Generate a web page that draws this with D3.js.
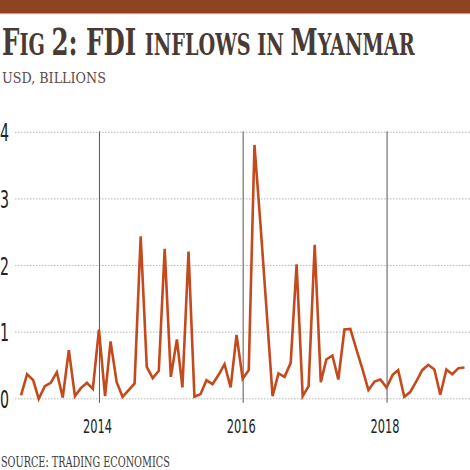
<!DOCTYPE html>
<html>
<head>
<meta charset="utf-8">
<script src="https://cdn.jsdelivr.net/npm/d3@7"></script>
<style>
  html, body { margin: 0; padding: 0; background: #fff; }
  svg { display: block; }
</style>
</head>
<body>
<svg></svg>
<script>
const svgWidth = 470;
const svgHeight = 470;

// monthly FDI inflows, USD billions, Dec 2012 .. Feb 2019
const firstMonth = "2012-12";
const fdiValues = [
	0.05, 0.37, 0.28, 0.00, 0.19, 0.24, 0.40, 0.02, 0.73, 0.04, 0.16, 0.24, 0.15,
	1.04, 0.04, 0.86, 0.25, 0.03, 0.13, 0.23, 2.44, 0.48, 0.31, 0.42, 2.25,
	0.33, 0.89, 0.17, 2.21, 0.03, 0.07, 0.28, 0.22, 0.36, 0.52, 0.17, 0.96,
	0.30, 0.43, 3.81, 2.60, 1.35, 0.04, 0.38, 0.33, 0.54, 2.02, 0.04, 0.19,
	2.31, 0.25, 0.59, 0.65, 0.29, 1.04, 1.05, 0.74, 0.44, 0.13, 0.26, 0.29,
	0.17, 0.36, 0.43, 0.03, 0.10, 0.26, 0.43, 0.51, 0.44, 0.06, 0.44, 0.37,
	0.46, 0.47
];
const yTicks = [0, 1, 2, 3, 4];
const xTickYears = [2014, 2016, 2018];

const parseMonth = d3.timeParse("%Y-%m");
const start = parseMonth(firstMonth);
const series = fdiValues.map((v, i) => ({ date: d3.timeMonth.offset(start, i), value: v }));

const serifFont = "'DejaVu Serif Condensed', 'DejaVu Serif', serif";
const sansFont = "'DejaVu Sans Condensed', 'DejaVu Sans', sans-serif";

const svg = d3.select("svg")
	.attr("width", svgWidth)
	.attr("height", svgHeight);

// squeeze a text horizontally so it spans the given width
function fitText (sel, x, y, width) {
	let w = sel.node().getBBox().width;
	sel.attr("transform", `translate(${x}, ${y}) scale(${width / w}, 1)`);
}

const xScale = d3.scaleTime()
	.domain(d3.extent(series, d => d.date))
	.range([21, 464.5]);

const yScale = d3.scaleLinear()
	.domain([0, 4])
	.range([398.8, 132.3]);

// top band
svg.append("rect")
	.attr("x", 0).attr("y", 0)
	.attr("width", svgWidth).attr("height", 13)
	.attr("fill", "#8e4422");
svg.append("rect")
	.attr("x", 0).attr("y", 13)
	.attr("width", svgWidth).attr("height", 1.2)
	.attr("fill", "#d09a80");

// title, small caps by hand
const title = svg.append("text")
	.attr("fill", "#4a3a34")
	.attr("font-family", serifFont)
	.attr("font-weight", "bold");
[["F", 37], ["IG ", 29], ["2: FDI ", 37], ["INFLOWS IN ", 29], ["M", 37], ["YANMAR", 29]]
	.forEach(([t, s]) => title.append("tspan").attr("font-size", s).text(t));
fitText(title, 2, 55, 413);

const subtitle = svg.append("text")
	.text("USD, BILLIONS")
	.attr("fill", "#5a4a44")
	.attr("font-size", 15)
	.attr("font-family", serifFont);
fitText(subtitle, 2, 82.5, 104);

// dotted gridlines
svg.append("g")
	.selectAll("line")
	.data(yTicks)
	.enter()
	.append("line")
	.attr("x1", 15)
	.attr("x2", svgWidth)
	.attr("y1", d => yScale(d))
	.attr("y2", d => yScale(d))
	.attr("stroke", "#b5b5b5")
	.attr("stroke-width", 1)
	.attr("stroke-dasharray", "1.5,1.5");

// y labels
svg.append("g")
	.selectAll("text")
	.data(yTicks)
	.enter()
	.append("text")
	.text(d => d)
	.attr("fill", "#222")
	.attr("font-size", 24)
	.attr("font-family", sansFont)
	.each(function (d) { fitText(d3.select(this), 0, yScale(d) + 9, 9); });

// year lines
const yearDates = xTickYears.map(y => new Date(y, 0, 1));
svg.append("g")
	.selectAll("line")
	.data(yearDates)
	.enter()
	.append("line")
	.attr("x1", d => xScale(d) + 0.5)
	.attr("x2", d => xScale(d) + 0.5)
	.attr("y1", yScale(4) - 1)
	.attr("y2", yScale(0) + 4)
	.attr("stroke", "#555")
	.attr("stroke-width", 1);

svg.append("g")
	.selectAll("text")
	.data(yearDates)
	.enter()
	.append("text")
	.text(d => d.getFullYear())
	.attr("text-anchor", "middle")
	.attr("fill", "#222")
	.attr("font-size", 20)
	.attr("font-family", sansFont)
	.each(function (d) {
		let t = d3.select(this);
		let w = t.node().getBBox().width;
		t.attr("transform", `translate(${xScale(d) - 1.5}, 433) scale(${29 / w}, 1)`);
	});

// data line
const line = d3.line()
	.x(d => xScale(d.date))
	.y(d => yScale(d.value));

svg.append("path")
	.datum(series)
	.attr("d", line)
	.attr("fill", "none")
	.attr("stroke", "#c4491c")
	.attr("stroke-width", 2.6)
	.attr("stroke-linejoin", "miter")
	.attr("stroke-miterlimit", 4);

// source
const source = svg.append("text")
	.text("SOURCE: TRADING ECONOMICS")
	.attr("fill", "#3a3a3a")
	.attr("font-size", 14)
	.attr("font-family", serifFont);
fitText(source, 1, 467, 169);
</script>
</body>
</html>
